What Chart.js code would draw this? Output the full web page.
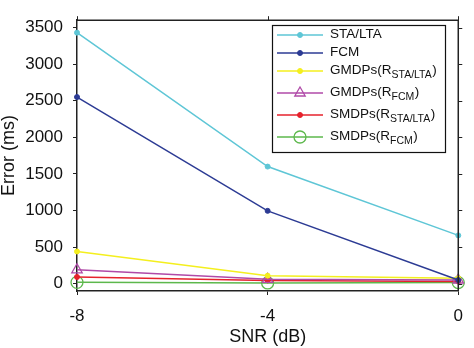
<!DOCTYPE html>
<html>
<head>
<meta charset="utf-8">
<script src="https://cdn.jsdelivr.net/npm/chart.js@4.4.1/dist/chart.umd.min.js"></script>
<style>
  html, body { margin: 0; padding: 0; background: #fff; }
  #wrap { width: 474px; height: 348px; }
</style>
</head>
<body>
<div id="wrap"><canvas id="chart"></canvas></div>
<script>
// values
const snr = [-8, -4, 0];
const staLta = [3430, 1600, 660];
const fcm = [2550, 995, 50];
const gmdpsSta = [440, 110, 75];
const gmdpsFcm = [190, 60, 50];
const smdpsSta = [92, 45, 30];
const smdpsFcm = [18, 10, 15];
const yTicks = [0, 500, 1000, 1500, 2000, 2500, 3000, 3500];

// legend labels: [main, subscript, tail]
const labels = [
    ['STA/LTA', '', ''],
    ['FCM', '', ''],
    ['GMDPs(R', 'STA/LTA', ')'],
    ['GMDPs(R', 'FCM', ')'],
    ['SMDPs(R', 'STA/LTA', ')'],
    ['SMDPs(R', 'FCM', ')']
];

const font = 'Liberation Sans, Arial, sans-serif';
const axisColor = '#222';

function pts(vals) {
    return vals.map((v, i) => ({ x: snr[i], y: v }));
}

function series(vals, color, style, radius, filled) {
    return {
        data: pts(vals),
        borderColor: color,
        backgroundColor: filled ? color : 'rgba(0,0,0,0)',
        pointStyle: style,
        pointRadius: radius,
        pointBorderWidth: filled ? 1 : 1.3,
        pointBorderColor: color,
        pointBackgroundColor: filled ? color : 'rgba(0,0,0,0)',
        borderWidth: 1.5,
        tension: 0,
        clip: false
    };
}

const datasets = [
    series(staLta, '#5ec6d6', 'circle', 2.5, true),
    series(fcm, '#2c3b94', 'circle', 2.5, true),
    series(gmdpsSta, '#f4ef1e', 'circle', 2.5, true),
    series(gmdpsFcm, '#b04aa8', 'triangle', 6, false),
    series(smdpsSta, '#e6222c', 'circle', 2.5, true),
    series(smdpsFcm, '#5db84c', 'circle', 6, false)
];

// box on top/right with mirrored outward ticks, like the original
const boxPlugin = {
    id: 'box',
    afterDraw(chart) {
        const ctx = chart.ctx;
        const a = chart.chartArea;
        const xs = chart.scales.x, ys = chart.scales.y;
        ctx.save();
        ctx.strokeStyle = axisColor;
        ctx.lineWidth = 1.5;
        ctx.beginPath();
        ctx.moveTo(a.left, a.top);
        ctx.lineTo(a.right, a.top);
        ctx.lineTo(a.right, a.bottom);
        ctx.stroke();
        ctx.lineWidth = 1;
        ctx.beginPath();
        snr.forEach(v => {
            const px = Math.round(xs.getPixelForValue(v)) + 0.5;
            ctx.moveTo(px, a.top);
            ctx.lineTo(px, a.top - 4);
        });
        yTicks.forEach(v => {
            const py = Math.round(ys.getPixelForValue(v)) + 0.5;
            ctx.moveTo(a.right, py);
            ctx.lineTo(a.right + 4, py);
        });
        ctx.stroke();
        ctx.restore();
    }
};

// legend with subscripts
const legendPlugin = {
    id: 'subLegend',
    afterDraw(chart) {
        const ctx = chart.ctx;
        const left = 272, top = 25, w = 173, h = 127;
        const rows = [35, 53, 71, 93, 115, 137];
        ctx.save();
        ctx.fillStyle = '#fff';
        ctx.fillRect(left, top, w, h);
        ctx.strokeStyle = '#111';
        ctx.lineWidth = 1.2;
        ctx.strokeRect(left + 0.5, top + 0.5, w, h);
        chart.data.datasets.forEach((ds, i) => {
            const y = rows[i];
            ctx.strokeStyle = ds.borderColor;
            ctx.lineWidth = 1.5;
            ctx.beginPath();
            ctx.moveTo(277, y);
            ctx.lineTo(323, y);
            ctx.stroke();
            ctx.fillStyle = ds.pointBackgroundColor;
            ctx.strokeStyle = ds.pointBorderColor;
            ctx.lineWidth = ds.pointBorderWidth;
            Chart.helpers.drawPoint(ctx, { pointStyle: ds.pointStyle, radius: ds.pointRadius, borderWidth: ds.pointBorderWidth, rotation: 0 }, 300, y);
            const [main, sub, tail] = labels[i];
            ctx.fillStyle = '#111';
            ctx.textBaseline = 'middle';
            ctx.textAlign = 'left';
            ctx.font = '13.5px ' + font;
            let x = 330;
            ctx.fillText(main, x, y - 1);
            x += ctx.measureText(main).width;
            if (sub) {
                ctx.font = '10.5px ' + font;
                ctx.fillText(sub, x, y + 4);
                x += ctx.measureText(sub).width;
                ctx.font = '13.5px ' + font;
                ctx.fillText(tail, x + 0.5, y - 1);
            }
        });
        ctx.restore();
    }
};

new Chart(document.getElementById('chart'), {
    type: 'line',
    data: { datasets: datasets },
    options: {
        responsive: true,
        maintainAspectRatio: false,
        animation: false,
        layout: { padding: { top: 3.5, right: 6, left: 0, bottom: 0 } },
        plugins: {
            legend: { display: false },
            tooltip: { enabled: false }
        },
        scales: {
            x: {
                type: 'linear',
                min: -8,
                max: 0,
                afterFit: s => { s.height = 57; },
                afterBuildTicks: s => { s.ticks = snr.map(v => ({ value: v })); },
                ticks: {
                    color: '#111',
                    font: { family: font, size: 17 },
                    padding: 11,
                    callback: v => String(v)
                },
                grid: { drawOnChartArea: false, tickLength: 4, tickColor: axisColor, tickWidth: 1 },
                border: { color: axisColor, width: 1.5 },
                title: {
                    display: true,
                    text: 'SNR (dB)',
                    color: '#111',
                    font: { family: font, size: 18, lineHeight: 1.2 },
                    padding: { top: 0, bottom: 0 }
                }
            },
            y: {
                min: -100,
                max: 3600,
                afterFit: s => { s.width = 77; },
                afterBuildTicks: s => { s.ticks = yTicks.map(v => ({ value: v })); },
                ticks: {
                    color: '#111',
                    font: { family: font, size: 17 },
                    padding: 10,
                    callback: v => String(v)
                },
                grid: { drawOnChartArea: false, tickLength: 4, tickColor: axisColor, tickWidth: 1 },
                border: { color: axisColor, width: 1.5 },
                title: {
                    display: true,
                    text: 'Error (ms)',
                    color: '#111',
                    font: { family: font, size: 18, lineHeight: 1 },
                    padding: { top: 0, bottom: 0 }
                }
            }
        }
    },
    plugins: [boxPlugin, legendPlugin]
});
</script>
</body>
</html>
